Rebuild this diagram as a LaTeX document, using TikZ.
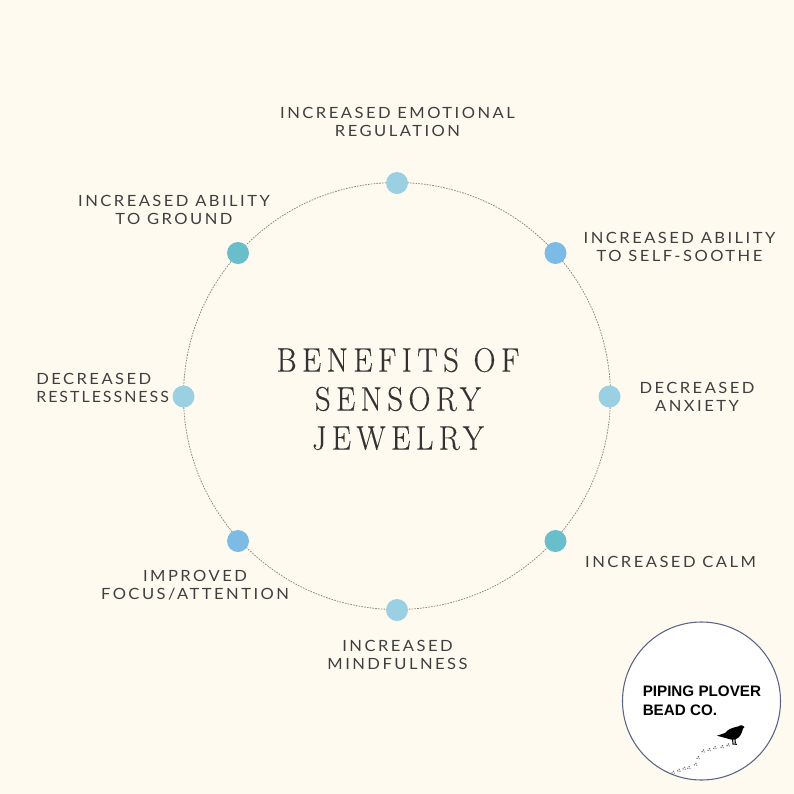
\documentclass[tikz,border=0pt]{standalone}
\usepackage{fontspec}
\setmainfont{Latin Modern Roman}
\newfontfamily\lblfont[LetterSpace=16,FakeStretch=1.07]{Lato}
\newfontfamily\lblnarrow[LetterSpace=13,FakeStretch=1.03]{Lato}
\newfontfamily\titlefont[LetterSpace=16,FakeBold=0.3,FakeStretch=0.9]{Latin Modern Roman}
\newfontfamily\logofont{Liberation Sans}
\definecolor{bgcream}{HTML}{FEFAEF}
\definecolor{dotpale}{HTML}{9BCFE2}
\definecolor{dotblue}{HTML}{7BBBE6}
\definecolor{dotteal}{HTML}{68BECB}
\definecolor{ink}{HTML}{3F3F3F}
\definecolor{ringline}{HTML}{8A8A84}
\definecolor{logoline}{HTML}{5A6485}
\tikzset{
  lbl/.style={font=\lblfont\fontsize{11.6pt}{13.5pt}\selectfont,text=ink,align=center,inner sep=0pt},
  dot/.style={circle,minimum size=16.5pt,inner sep=0pt},
  ttl/.style={font=\titlefont\fontsize{25.5pt}{29.2pt}\selectfont,text=black!80,align=center,inner sep=0pt},
  logotxt/.style={anchor=base west,inner sep=0pt,font=\logofont\bfseries\fontsize{11.4pt}{14pt}\selectfont}
}
\begin{document}
\begin{tikzpicture}[x=0.75pt,y=-0.75pt]
\useasboundingbox (0,0) rectangle (794,794);
\fill[bgcream] (0,0) rectangle (794,794);
\draw[ringline,line width=0.6pt,dash pattern=on 1.2pt off 0.9pt] (397,396) circle[radius=213.5];
\node[dot,fill=dotpale] (d1) at (397,183) {};
\node[dot,fill=dotblue] (d2) at (555.5,253) {};
\node[dot,fill=dotpale] (d3) at (609.5,396.5) {};
\node[dot,fill=dotteal] (d4) at (555.5,541) {};
\node[dot,fill=dotpale] (d5) at (397,610) {};
\node[dot,fill=dotblue] (d6) at (238,541) {};
\node[dot,fill=dotpale] (d7) at (183.5,396.5) {};
\node[dot,fill=dotteal] (d8) at (238,253) {};
\node[lbl] (l1) at (397.5,121.5) {INCREASED EMOTIONAL\\REGULATION};
\node[lbl] (l2) at (679.5,246.5) {INCREASED ABILITY\\TO SELF-SOOTHE};
\node[lbl] (l3) at (697,397) {DECREASED\\ANXIETY};
\node[lbl] (l4) at (670.5,561.5) {INCREASED CALM};
\node[lbl] (l5) at (397.5,655) {INCREASED\\MINDFULNESS};
\node[lbl] (l6) at (195,585) {IMPROVED\\FOCUS/ATTENTION};
\node[lbl,align=left,anchor=west] (l7) at (36,388) {DECREASED\\{\lblnarrow RESTLESSNESS}};
\node[lbl] (l8) at (174,209.5) {INCREASED ABILITY\\TO GROUND};
\node[ttl] (title) at (398,399) {BENEFITS OF\\SENSORY\\JEWELRY};
% logo
\draw[logoline,fill=white,line width=0.8pt] (701.5,701) circle[radius=79];
\node[logotxt] (logo1) at (642.5,696.5) {PIPING PLOVER};
\node[logotxt] (logo2) at (642.5,715.5) {BEAD CO.};
% bird
\fill[black] (717,735.7) -- (725,733) .. controls (728,729) and (733,727.5) .. (738,726.5)
  .. controls (741,724.5) and (743.5,725) .. (744.5,727) -- (743,728.5)
  .. controls (742,733) and (740,738) .. (735,739.5) -- (731,739.5)
  .. controls (727,738.5) and (722,737) .. (717,735.7) -- cycle;
\draw[black,line width=0.8pt] (732.5,738) -- (733,744) -- (737,744.3);
\draw[black,line width=0.8pt] (735,738) -- (735.3,743.5);
% footprints
\foreach \x/\y in {673.3/772.3,679/770.3,684.3/768.3,689/767.7,695.7/764.3,698.3/757.7,
  703.3/751,709.3/749.7,715/747.7,722.3/746.7,728.3/745}{
  \fill[black!55] (\x-1.2,\y+0.6) circle[radius=0.8];
  \fill[black!55] (\x+0.2,\y-1) circle[radius=0.8];
  \fill[black!40] (\x+1,\y+0.9) circle[radius=0.8];
}
\end{tikzpicture}
\end{document}
